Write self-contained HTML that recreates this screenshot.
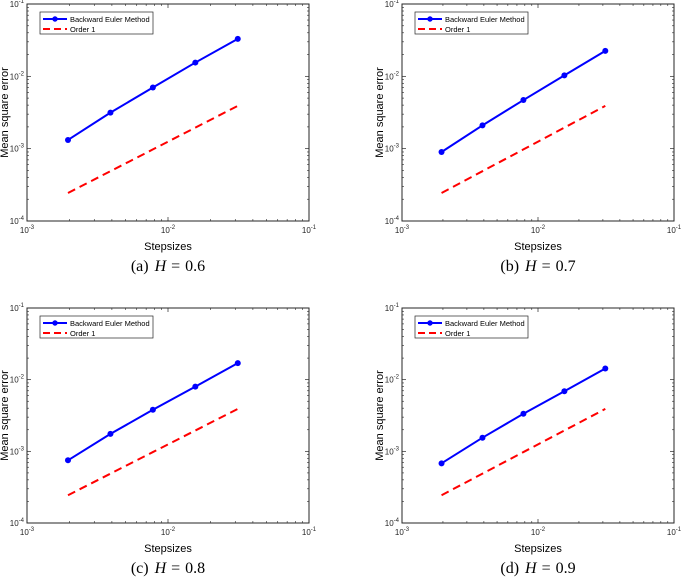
<!DOCTYPE html>
<html><head><meta charset="utf-8"><style>
body{margin:0;background:#fff}
svg{display:block}
</style></head><body>
<svg id="fig" width="685" height="578" xmlns="http://www.w3.org/2000/svg" font-family="Liberation Sans, sans-serif"></svg>
<script>
const stepsizes=[1/512,1/256,1/128,1/64,1/32];
const orderConst=0.125;
const errA=[1.32e-3,3.15e-3,7.0e-3,1.55e-2,3.3e-2];
const errB=[9.0e-4,2.1e-3,4.7e-3,1.03e-2,2.25e-2];
const errC=[7.5e-4,1.75e-3,3.8e-3,8.0e-3,1.7e-2];
const errD=[6.8e-4,1.55e-3,3.35e-3,6.9e-3,1.43e-2];
const captions=["(a)","(b)","(c)","(d)"];
const hValues=["0.6","0.7","0.8","0.9"];
const xTickExp=[-3,-2,-1];
const yTickExp=[-4,-3,-2,-1];
const series=[errA,errB,errC,errD];
const boxes=[[27,309,4,221],[402,674,4,221],[27,309,308,523],[402,674,308,523]];
const NS="http://www.w3.org/2000/svg";
const svg=document.getElementById('fig');
function mk(tag,attrs,parent){const e=document.createElementNS(NS,tag);for(const k in attrs)e.setAttribute(k,attrs[k]);(parent||svg).appendChild(e);return e;}
series.forEach((data,p)=>{
  const [L,R,T,B]=boxes[p];
  const g=mk('g',{});
  
  
  const xs=v=>L+(Math.log10(v)+3)/2*(R-L);
  const ys=v=>B-(Math.log10(v)+4)/3*(B-T);
  const box=mk('rect',{x:L,y:T,width:R-L,height:B-T,fill:'#fff',stroke:'#262626','stroke-width':1},g);
  
  
  for(let d=-3;d<-1;d++)for(let m=2;m<10;m++){const x=xs(m*Math.pow(10,d));mk('line',{x1:x,x2:x,y1:B,y2:B-2,stroke:'#262626','stroke-width':0.6},g);mk('line',{x1:x,x2:x,y1:T,y2:T+2,stroke:'#262626','stroke-width':0.6},g);}
  for(let d=-4;d<-1;d++)for(let m=2;m<10;m++){const y=ys(m*Math.pow(10,d));mk('line',{x1:L,x2:L+2,y1:y,y2:y,stroke:'#262626','stroke-width':0.6},g);mk('line',{x1:R,x2:R-2,y1:y,y2:y,stroke:'#262626','stroke-width':0.6},g);}
  xTickExp.forEach(e=>{const x=xs(Math.pow(10,e));
    mk('line',{x1:x,x2:x,y1:B,y2:B-4,stroke:'#262626','stroke-width':0.7},g);
    mk('line',{x1:x,x2:x,y1:T,y2:T+4,stroke:'#262626','stroke-width':0.7},g);
    const t=mk('text',{x:x,y:B+12,'font-size':8,fill:'#262626','text-anchor':'middle'},g);
    
    
    t.innerHTML='10<tspan dy="-4" font-size="6">'+e+'</tspan>';});
  yTickExp.forEach(e=>{const y=ys(Math.pow(10,e));
    mk('line',{x1:L,x2:L+4,y1:y,y2:y,stroke:'#262626','stroke-width':0.7},g);
    mk('line',{x1:R,x2:R-4,y1:y,y2:y,stroke:'#262626','stroke-width':0.7},g);
    const t=mk('text',{x:L-3,y:y+3,'font-size':8,fill:'#262626','text-anchor':'end'},g);
    
    
    t.innerHTML='10<tspan dy="-4" font-size="6">'+e+'</tspan>';});
  const ord=mk('polyline',{points:stepsizes.map(s=>xs(s)+','+ys(orderConst*s)).join(' '),fill:'none',stroke:'#ff0000','stroke-width':2,'stroke-dasharray':'8,5'},g);
  
  
  const ln=mk('polyline',{points:stepsizes.map((s,i)=>xs(s)+','+ys(data[i])).join(' '),fill:'none',stroke:'#0000ff','stroke-width':2},g);
  
  
  stepsizes.forEach((s,i)=>{const c=mk('circle',{cx:xs(s),cy:ys(data[i]),r:3,fill:'#0000ff'},g);
    
    });
  const lg=mk('g',{},g);
  
  
  mk('rect',{x:L+13,y:T+8,width:113,height:22,fill:'#fff',stroke:'#262626','stroke-width':0.7},lg);
  mk('line',{x1:L+16,x2:L+40,y1:T+15,y2:T+15,stroke:'#0000ff','stroke-width':2},lg);
  mk('circle',{cx:L+28,cy:T+15,r:2.7,fill:'#0000ff'},lg);
  mk('text',{x:L+43,y:T+18,'font-size':7.5,fill:'#000'},lg).textContent='Backward Euler Method';
  mk('line',{x1:L+16,x2:L+40,y1:T+25,y2:T+25,stroke:'#ff0000','stroke-width':2,'stroke-dasharray':'7,4'},lg);
  mk('text',{x:L+43,y:T+28,'font-size':7.5,fill:'#000'},lg).textContent='Order 1';
  const xl=mk('text',{x:(L+R)/2,y:B+29,'font-size':11,fill:'#000','text-anchor':'middle'},g);
  
  
  xl.textContent='Stepsizes';
  const yl=mk('text',{x:0,y:0,'font-size':11,fill:'#000','text-anchor':'middle',transform:'translate('+(L-19)+','+((T+B)/2)+') rotate(-90)'},g);
  
  
  yl.textContent='Mean square error';
  const cap=mk('text',{x:(L+R)/2,y:B+50,'font-size':16,fill:'#000','text-anchor':'middle','font-family':'Liberation Serif, serif','xml:space':'preserve'},g);
  
  
  cap.innerHTML=captions[p]+'<tspan dx="6" font-style="italic">H</tspan><tspan dx="5">=</tspan><tspan dx="5">'+hValues[p]+'</tspan>';
});
</script>
</body></html>
